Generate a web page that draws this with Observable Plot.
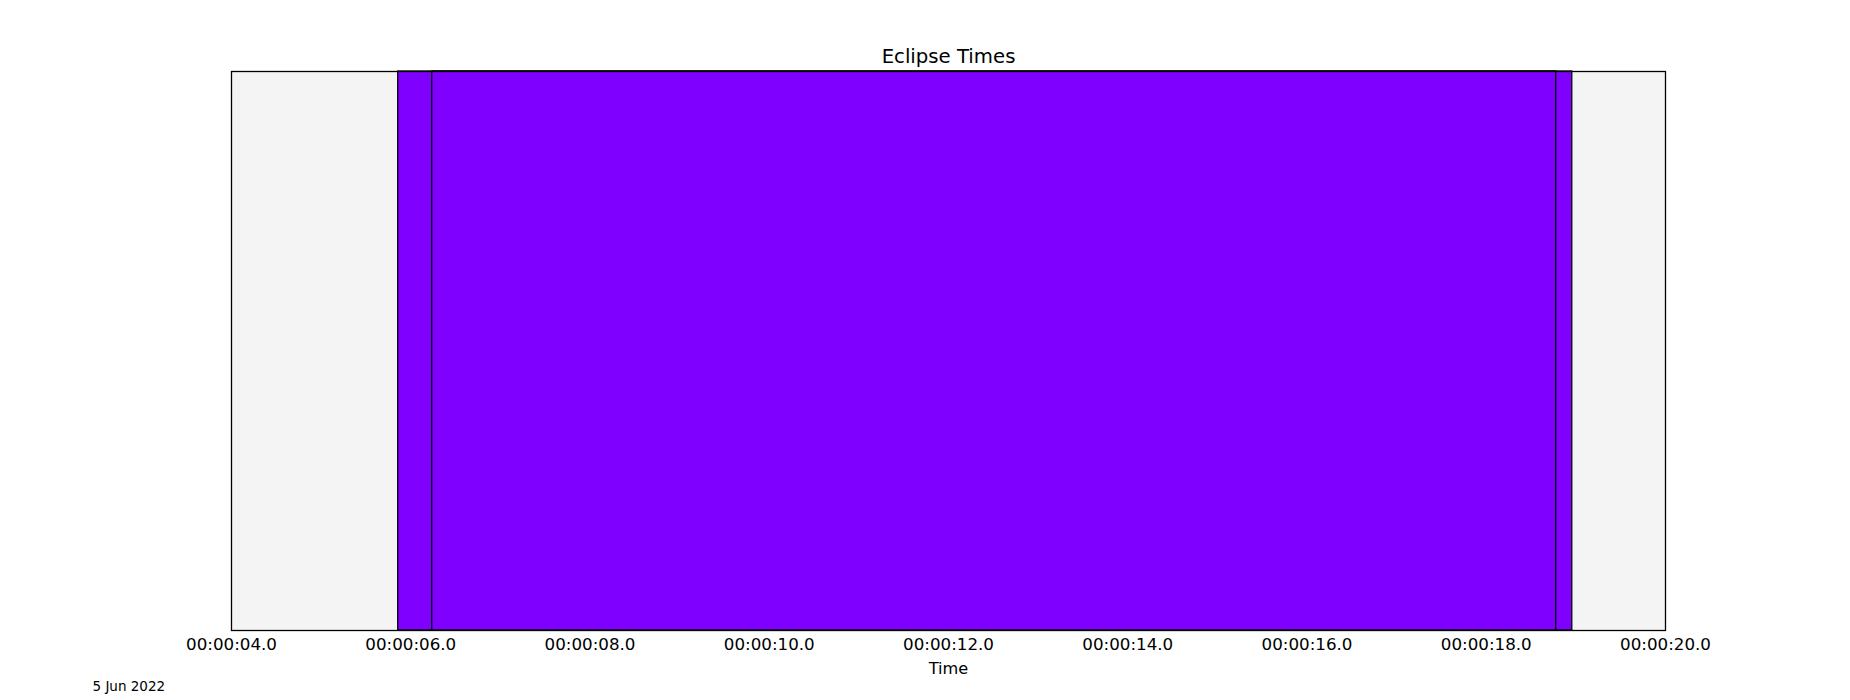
<!DOCTYPE html>
<html>
<head>
<meta charset="utf-8">
<script src="https://cdn.jsdelivr.net/npm/d3@7"></script>
<script src="https://cdn.jsdelivr.net/npm/@observablehq/plot@0.6"></script>
<style>
  html, body { margin: 0; padding: 0; background: #ffffff; }
  svg { font-family: "DejaVu Sans", sans-serif; }
</style>
</head>
<body>
<div id="chart"></div>
<script>
// Eclipse phases (seconds after 00:00:00)
const phaseNames = ["Penumbral", "Umbral"];
const phaseStart = [5.86, 6.24];
const phaseEnd = [18.96, 18.78];

// Axis
const timeDomain = [4, 20];
const tickValues = [4, 6, 8, 10, 12, 14, 16, 18, 20];

const titleText = "Eclipse Times";
const axisLabel = "Time";
const dateCaption = "5 Jun 2022";

const phases = phaseNames.map((name, i) => ({name, start: phaseStart[i], end: phaseEnd[i]}));

function fmt(s) {
  const h = Math.floor(s / 3600);
  const m = Math.floor((s % 3600) / 60);
  const sec = s % 60;
  const pad = (v) => String(v).padStart(2, "0");
  const secStr = sec.toFixed(1).padStart(4, "0");
  return `${pad(h)}:${pad(m)}:${secStr}`;
}

const chart = Plot.plot({
  width: 1850,
  height: 700,
  marginLeft: 231,
  marginRight: 185,
  marginTop: 71,
  marginBottom: 70,
  style: {fontFamily: "DejaVu Sans, sans-serif", background: "#ffffff", color: "#000"},
  x: {domain: timeDomain, axis: null},
  marks: [
    Plot.frame({fill: "#f4f4f4", stroke: null}),
    Plot.rect(phases, {x1: "start", x2: "end", fill: "#7f00ff", stroke: "#000", strokeWidth: 1.3}),
    Plot.frame({stroke: "#000", strokeWidth: 1.3}),
    Plot.axisX({
      ticks: tickValues,
      tickFormat: fmt,
      tickSize: 0,
      tickPadding: 8,
      fontSize: 16.7,
      fontVariant: "normal",
      label: null,
      fill: "#000"
    }),
    Plot.text([titleText], {frameAnchor: "top", lineAnchor: "bottom", dy: -9, fontSize: 19.7, fill: "#000"}),
    Plot.text([axisLabel], {frameAnchor: "bottom", lineAnchor: "bottom", dy: 43, fontSize: 16.2, fill: "#000"}),
    Plot.text([dateCaption], {frameAnchor: "bottom-left", textAnchor: "start", lineAnchor: "bottom", dx: -139, dy: 60, fontSize: 13.5, fill: "#000"})
  ]
});

document.getElementById("chart").appendChild(chart);
</script>
</body>
</html>
